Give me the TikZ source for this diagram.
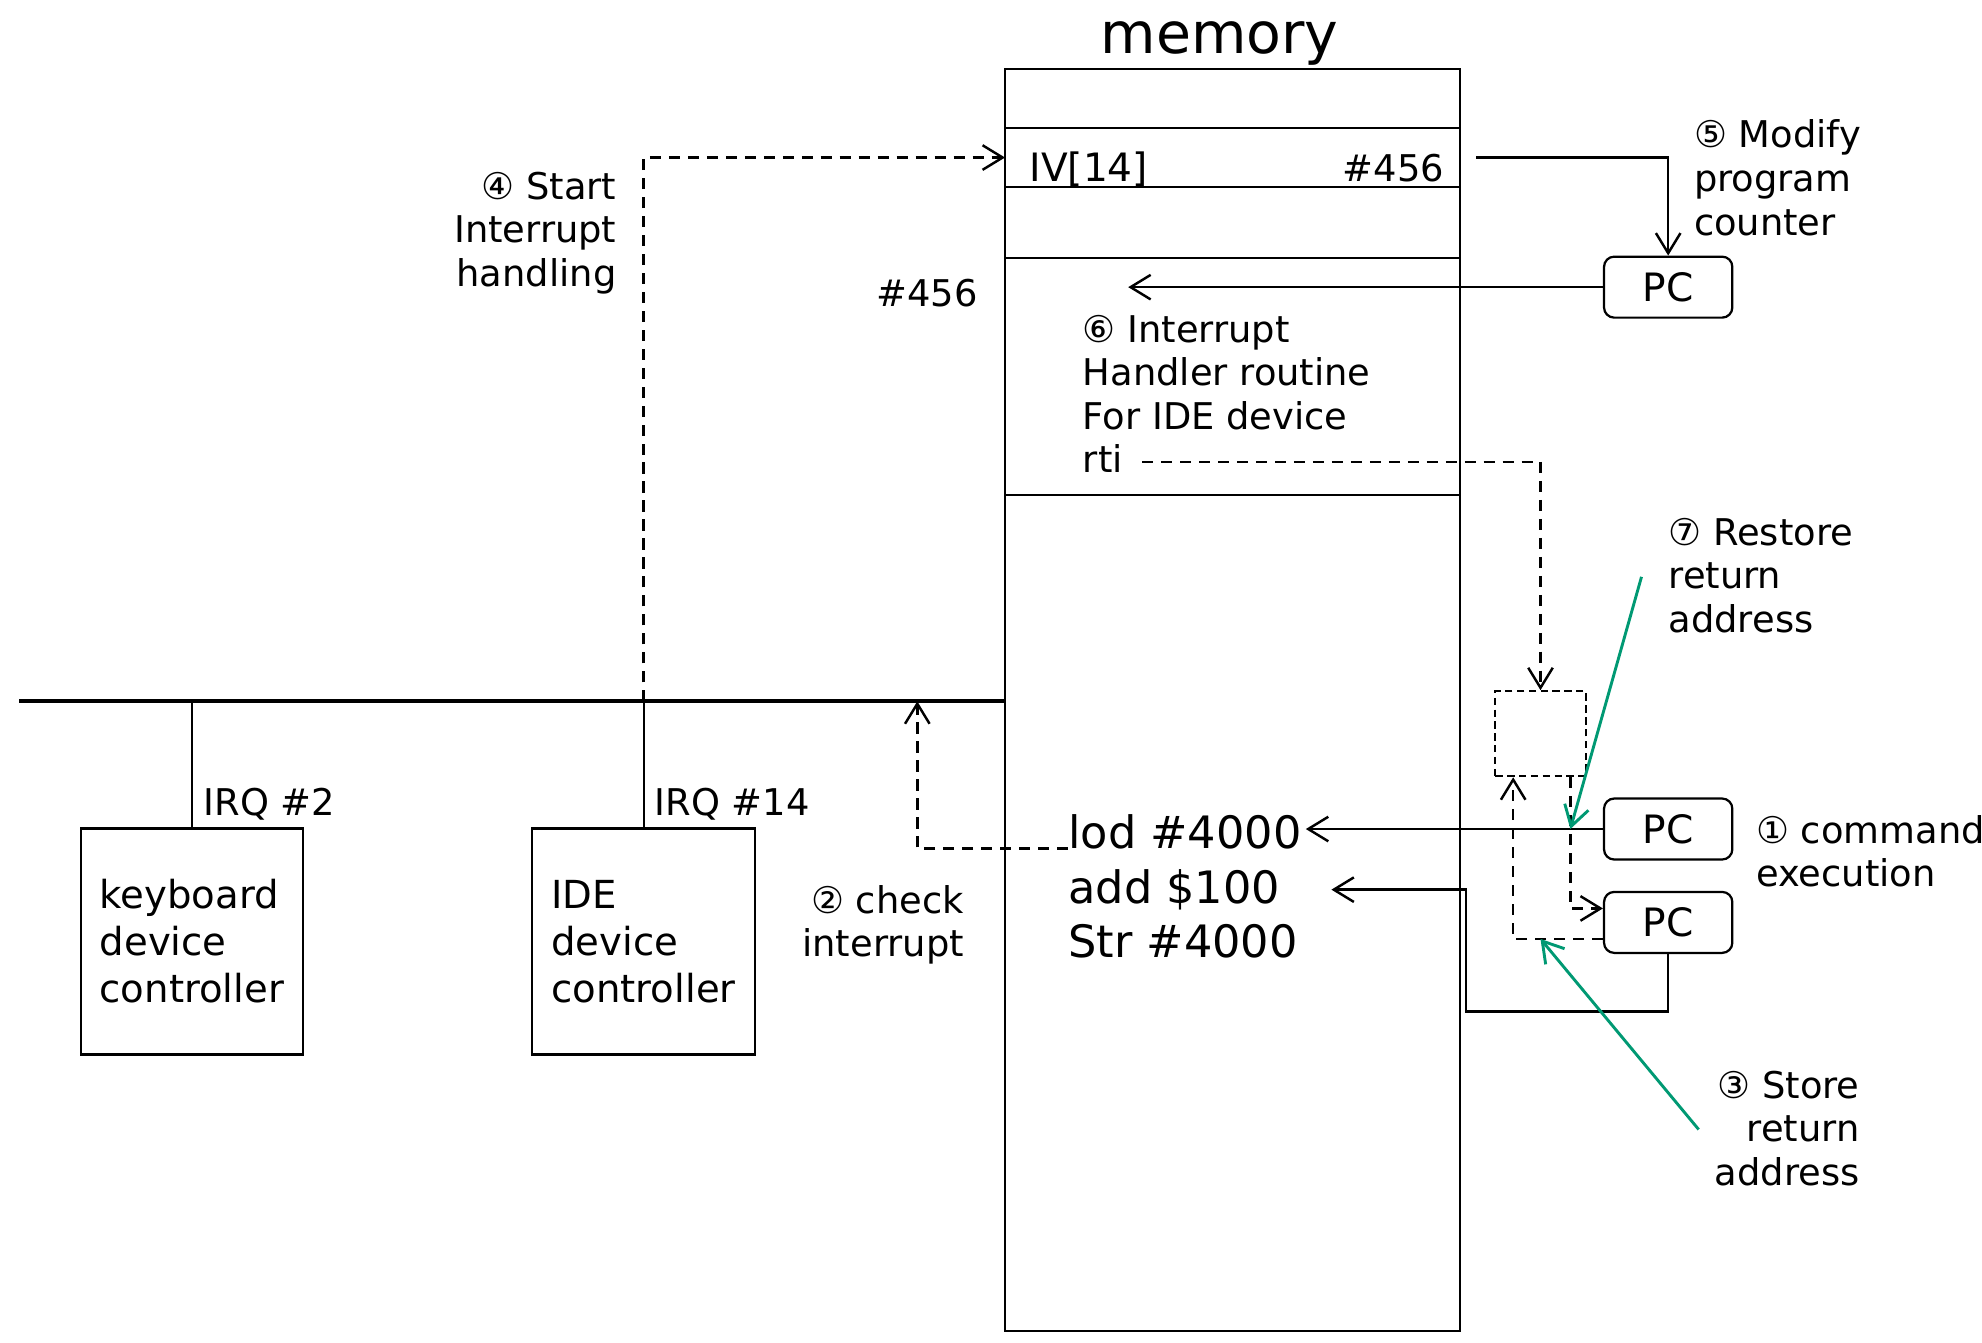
\documentclass[tikz,border=0pt]{standalone}
\usepackage{fontspec}
\setmainfont{DejaVu Sans}
\usetikzlibrary{arrows.meta,
                positioning
            }
\definecolor{markgreen}{RGB}{0,153,115}
\tikzset{
    arr/.style={-{Straight Barb[length=9pt,width=11pt]}, line width=1.1pt},
    dasharr/.style={arr, dash pattern=on 5pt off 3.5pt},
    greenarr/.style={arr, draw=markgreen, line width=1.3pt},
    wire/.style={line width=0.9pt},
    bus/.style={line width=1.9pt},
    cell/.style={draw, line width=0.9pt, minimum width=7.16cm, inner sep=0pt, outer sep=0pt},
    pcbox/.style={draw, line width=1pt, rounded corners=0.16cm, minimum width=2.02cm,
                  minimum height=0.96cm, inner sep=0pt, font=\fontsize{17.5}{21}\selectfont},
    stackbox/.style={draw, line width=0.9pt, dash pattern=on 3.3pt off 2pt,
                     minimum width=1.42cm, minimum height=1.34cm, inner sep=0pt},
    devbox/.style={draw, line width=1pt, minimum width=3.5cm, minimum height=3.56cm,
                   align=left, font=\fontsize{17.3}{21}\selectfont},
    lbl/.style={inner sep=0pt, font=\fontsize{16.5}{19.5}\selectfont},
    code/.style={inner sep=0pt, font=\fontsize{20}{24}\selectfont}
}
\begin{document}
\begin{tikzpicture}[x=0.02cm, y=-0.02cm]
            \useasboundingbox (0,0) rectangle (1560,1056.3);
            \node[anchor=base, inner sep=0pt, font=\fontsize{25.5}{30}\selectfont] (title) at (960,42) {memory};
            \node[cell, minimum height=0.94cm] (r1) at (970,77.5) {};
            \node[cell, minimum height=0.92cm, below=0pt of r1] (r2) {};
            \node[cell, minimum height=1.12cm, below=0pt of r2] (r3) {};
            \node[cell, minimum height=3.74cm, below=0pt of r3] (r4) {};
            \node[cell, minimum height=13.16cm, below=0pt of r4] (r5) {};
            \node[lbl, anchor=base west, font=\fontsize{17.5}{21}\selectfont] (ivkey) at (810,143) {IV[14]};
            \node[lbl, anchor=base east] (ivval) at (1137,143) {\#456};
            \node[lbl, anchor=base east] (hndaddr) at (770,241.5) {\#456};
            \node[lbl, anchor=base west, align=left] (hnd) at (852,372) {⑥ Interrupt\\Handler routine\\For IDE device\\rti};
            \node[code, anchor=base west] (lod) at (840.5,668) {lod \#4000};
            \node[code, anchor=base west] (add) at (840.5,711) {add \$100};
            \node[code, anchor=base west] (str) at (840.5,754) {Str \#4000};
            \node[pcbox] (pc0) at (1313,226) {PC};
            \node[pcbox] (pc1) at (1313,652.5) {PC};
            \node[pcbox] (pc2) at (1313,726) {PC};
            \node[stackbox] (stack) at (1212.5,577.5) {};
            \node[devbox] (kbd) at (151,741) {keyboard\\device\\controller};
            \node[devbox] (ide) at (506.5,741) {IDE\\device\\controller};
            \coordinate (busL) at (15,552);
            \draw[bus] (busL) -- (busL -| r5.west);
            \draw[wire] (kbd.north) -- (kbd.north |- busL);
            \draw[wire] (ide.north) -- (ide.north |- busL);
            \node[lbl, anchor=base west] (irq2) at (160,642) {IRQ \#2};
            \node[lbl, anchor=base west] (irq14) at (515,642) {IRQ \#14};
            \node[lbl, anchor=base east, align=right] (step4) at (485.5,225.5) {④ Start\\Interrupt\\handling};
            \node[lbl, anchor=base east, align=right] (step2) at (759,753) {② check\\interrupt};
            \node[lbl, anchor=base west, align=left] (step5) at (1333,185) {⑤ Modify\\program\\counter};
            \node[lbl, anchor=base west, align=left] (step7) at (1313,497.5) {⑦ Restore\\return\\address};
            \node[lbl, anchor=base west, align=left] (step1) at (1382,698) {① command\\execution};
            \node[lbl, anchor=base east, align=right] (step3) at (1464,933) {③ Store\\return\\address};
            \coordinate (chk) at (722,552);
            \coordinate (hndtip) at (888,226);
            \coordinate (rti) at (899,363.5);
            \coordinate (addbend) at (1154,796);
            \coordinate (stout) at ([xshift=-0.43cm]stack.south);
            \coordinate (rstback) at ([xshift=0.47cm]stack.south);
            \coordinate (stin) at ([yshift=-0.26cm]pc2.west);
            \coordinate (rstin) at ([yshift=0.22cm]pc2.west);
            \coordinate (rstfrom) at (1292,454);
            \coordinate (stfrom) at (1337,889);
            \draw[arr] (pc1.west) -- ([xshift=0.06cm]pc1.west -| lod.east);
            \draw[dasharr] (lod.base west) -| (chk);
            \draw[dasharr] (ide.north |- busL) |- (r2.west);
            \draw[arr] ([xshift=0.26cm]r2.east) -| (pc0.north);
            \draw[arr] (pc0.west) -- (hndtip);
            \draw[dasharr] (rti) -| (stack.north);
            \draw[dasharr] (stin) -| (stout);
            \draw[dasharr] (rstback) |- (rstin);
            \draw[arr] (pc2.south) |- (addbend) |- ([xshift=0.8cm]add.east);
            \draw[greenarr] (rstfrom) -- (rstback |- pc1.west);
            \draw[greenarr] (stfrom) -- (stack.south |- stin);
        \end{tikzpicture}
\end{document}
